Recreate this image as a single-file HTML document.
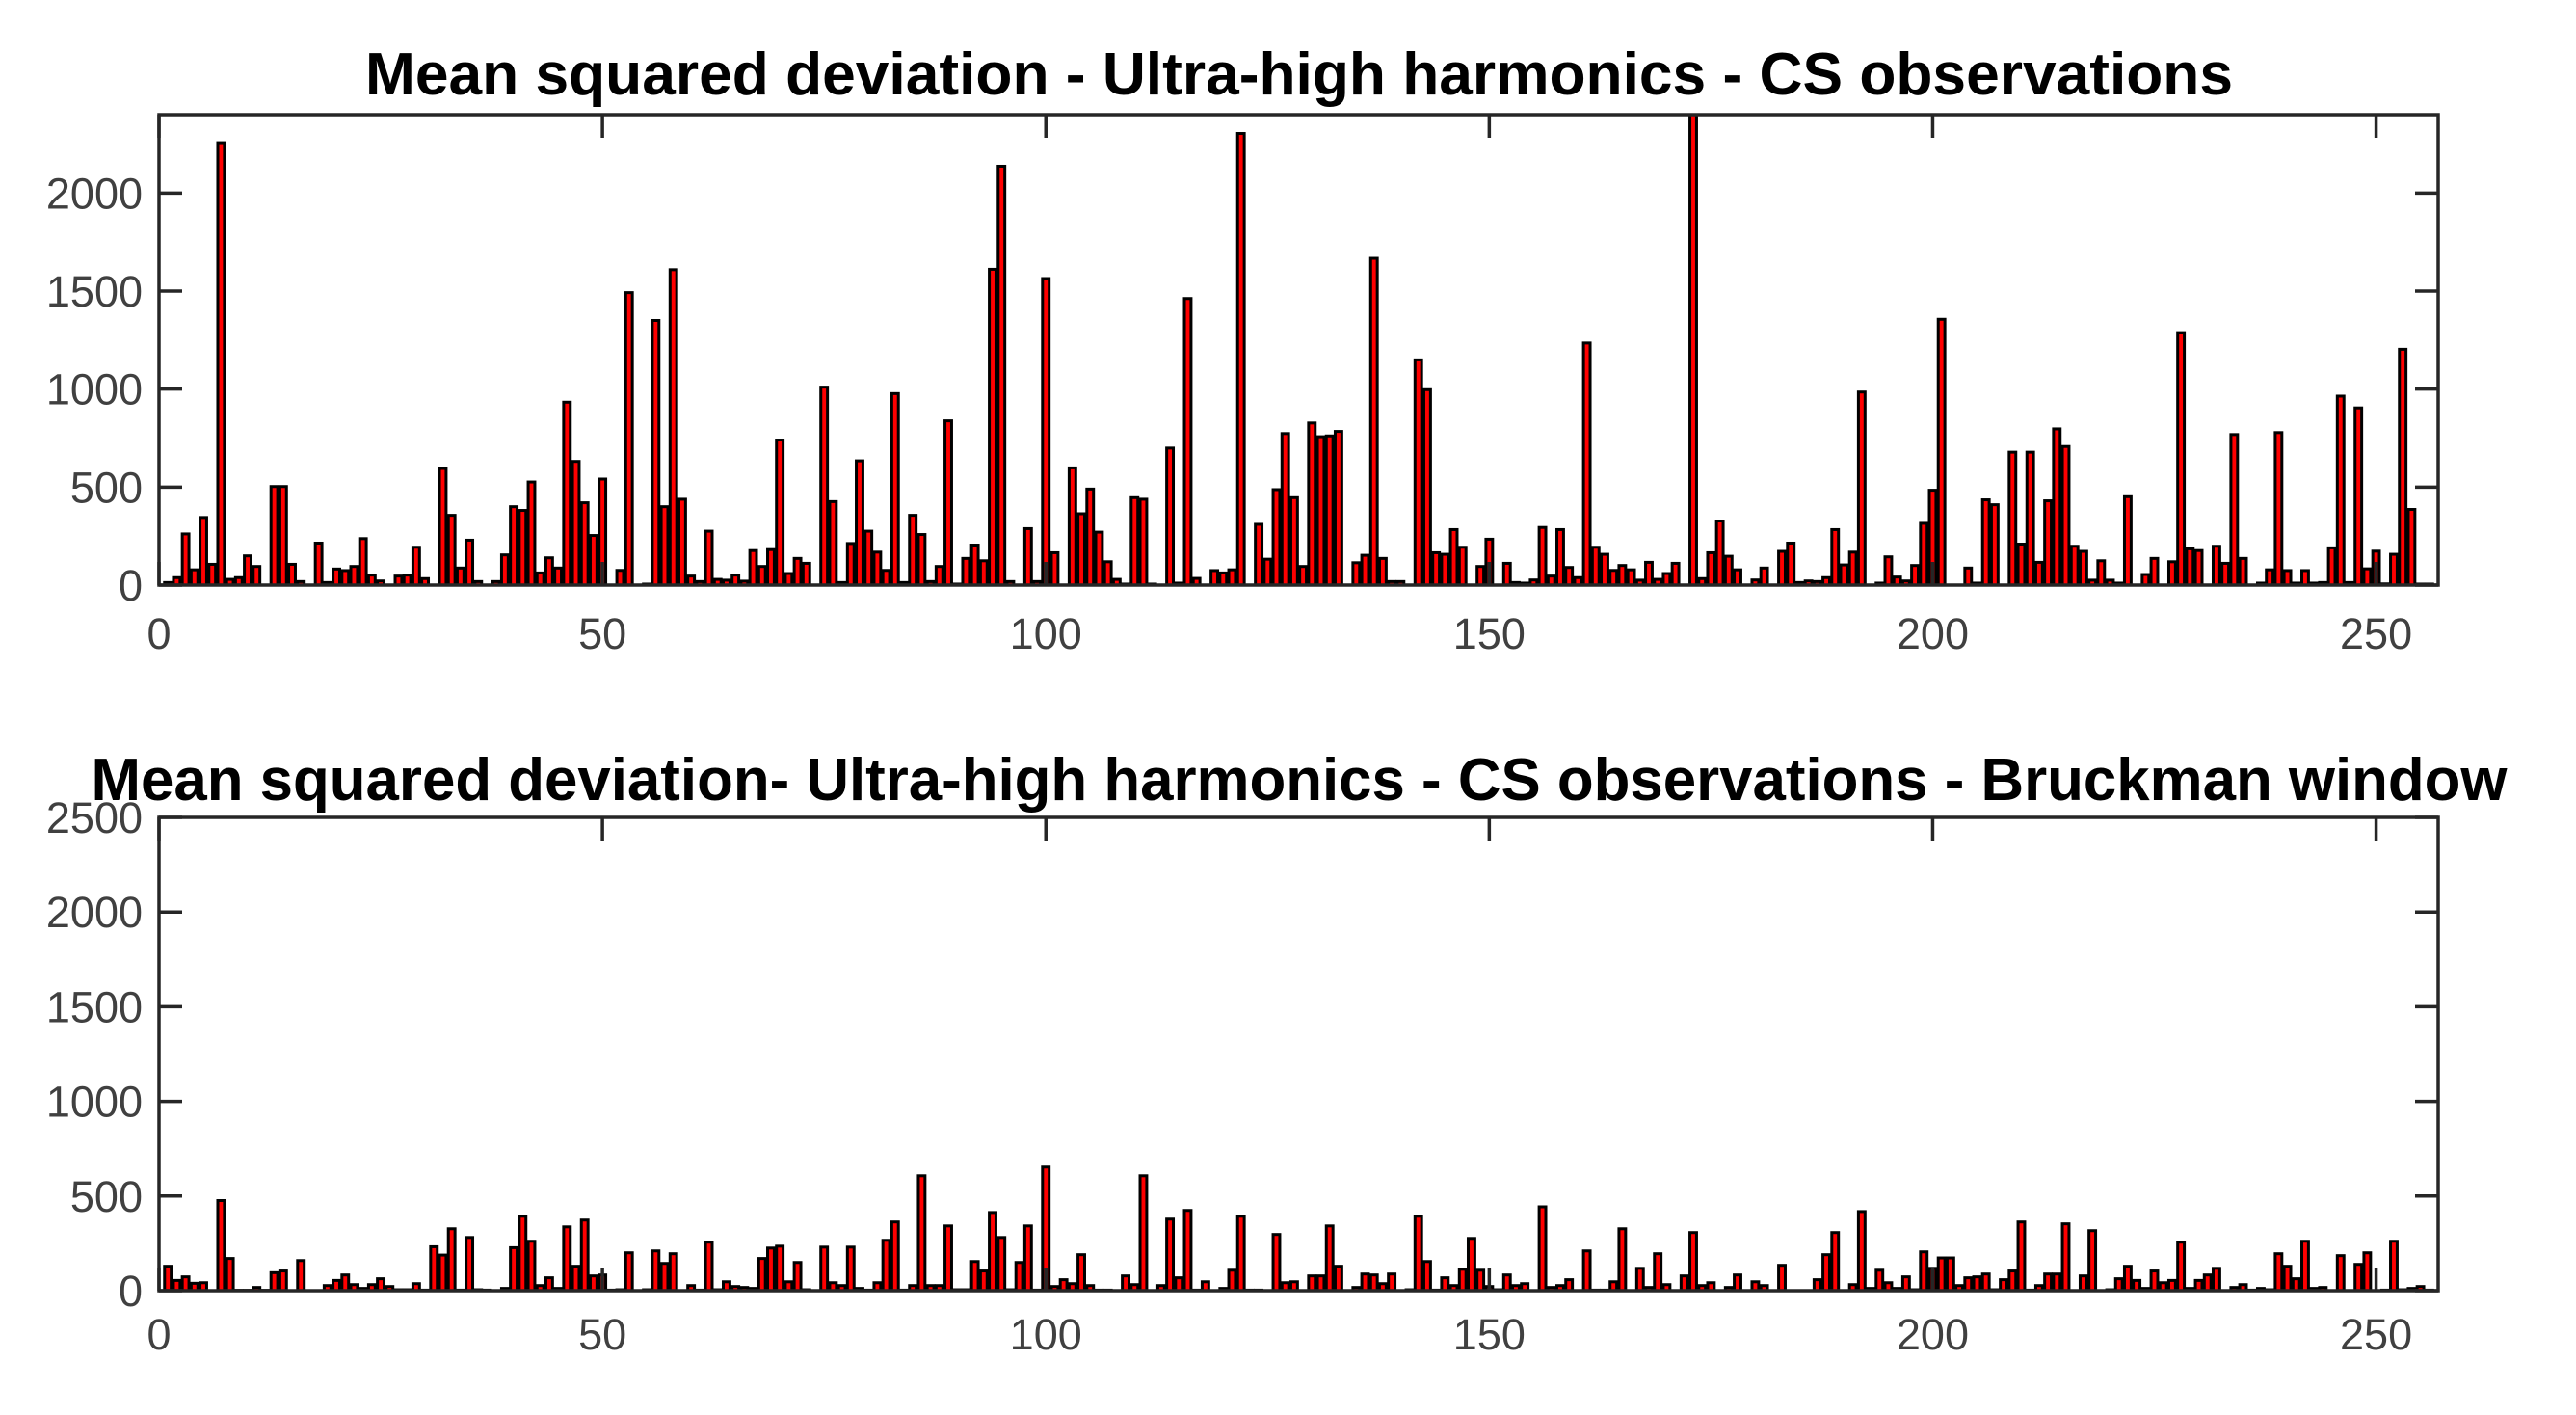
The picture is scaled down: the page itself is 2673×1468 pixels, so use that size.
<!DOCTYPE html>
<html><head><meta charset="utf-8"><title>Mean squared deviation bar charts</title>
<style>
html,body{margin:0;padding:0;background:#fff;}
svg{display:block;}
text{font-family:"Liberation Sans",Arial,sans-serif;}
</style></head>
<body>
<svg id="fig" width="2673" height="1468" viewBox="0 0 2673 1468" xmlns="http://www.w3.org/2000/svg">
<rect x="0" y="0" width="2673" height="1468" fill="#fff"/>
<text x="1348" y="98" text-anchor="middle" font-size="62" font-weight="bold" textLength="1938" lengthAdjust="spacingAndGlyphs">Mean squared deviation - Ultra-high harmonics - CS observations</text>
<text x="1348" y="830" text-anchor="middle" font-size="62" font-weight="bold" textLength="2507" lengthAdjust="spacingAndGlyphs">Mean squared deviation- Ultra-high harmonics - CS observations  - Bruckman window</text>
<g id="top"></g>
<g id="bottom"></g>
</svg>
<script>
const topValues = [13,38,261,78,345,106,2257,29,38,149,95,0,503,503,106,18,0,214,13,82,74,95,237,51,21,0,46,51,193,33,0,595,356,87,229,18,0,18,154,400,381,526,62,139,87,933,631,420,253,541,0,75,1492,0,5,1350,400,1609,438,46,18,275,29,25,51,20,176,95,181,740,59,136,111,0,1010,426,13,212,634,275,168,75,977,13,356,258,18,95,838,5,136,204,124,1611,2137,18,0,288,18,1564,165,0,598,364,490,270,119,29,5,446,438,5,0,699,10,1462,34,0,74,62,78,2304,0,310,132,487,773,446,95,827,757,761,784,0,114,152,1667,136,18,18,0,1149,997,165,157,283,193,0,95,234,0,111,13,10,26,294,46,283,90,38,1235,193,157,75,100,78,25,116,29,59,111,0,2400,33,165,327,147,78,0,26,87,0,172,214,13,21,18,38,283,103,168,985,0,10,144,41,21,100,315,484,1356,0,0,87,10,435,410,0,678,209,678,116,430,797,707,198,172,25,124,25,10,451,0,54,136,0,119,1288,185,176,0,198,111,768,136,0,10,78,778,74,10,74,10,13,190,964,13,904,83,173,6,157,1203,386,5,5];
const bottomValues = [129,54,73,39,42,0,476,170,2,2,17,2,95,104,0,159,0,0,27,54,83,32,12,32,63,22,5,5,37,3,232,188,327,3,281,5,3,0,12,227,393,261,27,68,12,337,129,373,78,83,3,5,200,0,5,210,144,195,0,27,3,256,5,47,22,17,12,170,225,235,47,149,5,0,230,42,27,230,12,3,42,266,363,3,27,607,27,27,342,5,5,154,104,413,281,5,149,342,3,653,22,58,37,190,27,3,3,0,78,32,607,0,27,378,68,424,3,47,0,12,108,393,3,3,0,297,42,47,0,78,78,342,129,0,17,88,83,37,88,0,5,393,154,3,68,27,113,276,108,22,5,83,27,37,0,443,17,27,58,0,210,3,3,47,327,0,118,17,195,32,0,78,307,27,42,0,17,83,0,47,27,0,134,0,0,0,58,190,307,0,32,418,12,108,42,12,73,5,205,118,173,173,27,68,73,88,5,58,104,363,3,27,88,88,353,0,78,317,0,5,63,129,54,12,104,42,54,256,12,54,83,118,0,17,32,3,12,5,195,129,63,261,12,17,0,185,0,139,200,0,3,261,5,12,22,3];
const xTicks = [0,50,100,150,200,250];
const topYTicks = [0,500,1000,1500,2000];
const bottomYTicks = [0,500,1000,1500,2000,2500];
const X_MAX = 257;
const NS = "http://www.w3.org/2000/svg";
const AX = "#262626";
const LEFT = 165, RIGHT = 2530;

function mk(tag, attrs, parent) {
  const e = document.createElementNS(NS, tag);
  for (const k in attrs) e.setAttribute(k, attrs[k]);
  parent.appendChild(e);
  return e;
}

function drawChart(g, values, yTicks, yMax, topY, botY, labelBase, prefix) {
  const xs = v => LEFT + (v / X_MAX) * (RIGHT - LEFT);
  const ys = v => botY - (v / yMax) * (botY - topY);
  const barW = 0.75 * (RIGHT - LEFT) / X_MAX;
  const bars = mk('g', {}, g);
  
  
  values.forEach((v, i) => {
    const k = i + 1;
    const y = ys(Math.min(v, yMax));
    const r = mk('rect', {x: (xs(k) - barW / 2).toFixed(2), y: y.toFixed(2), width: barW.toFixed(2), height: Math.max(0, botY - y).toFixed(2), fill: '#ff0000', stroke: '#000', 'stroke-width': 3}, bars);
    
    
  });
  // box
  const box = mk('rect', {x: LEFT, y: topY, width: RIGHT - LEFT, height: botY - topY, fill: 'none', stroke: AX, 'stroke-width': 3.5}, g);
  
  
  const TL = 24;
  xTicks.forEach(t => {
    const x = xs(t);
    mk('line', {x1: x, y1: botY, x2: x, y2: botY - TL, stroke: AX, 'stroke-width': 3.5}, g);
    mk('line', {x1: x, y1: topY, x2: x, y2: topY + TL, stroke: AX, 'stroke-width': 3.5}, g);
    const lb = mk('text', {x: x, y: labelBase, 'text-anchor': 'middle', 'font-size': 45, fill: '#404040'}, g);
    lb.textContent = t;
    
    
  });
  yTicks.forEach(t => {
    const y = ys(t);
    mk('line', {x1: LEFT, y1: y, x2: LEFT + TL, y2: y, stroke: AX, 'stroke-width': 3.5}, g);
    mk('line', {x1: RIGHT, y1: y, x2: RIGHT - TL, y2: y, stroke: AX, 'stroke-width': 3.5}, g);
    const lb = mk('text', {x: 148, y: y + 16, 'text-anchor': 'end', 'font-size': 45, fill: '#404040'}, g);
    lb.textContent = t;
    
    
  });
}

drawChart(document.getElementById('top'), topValues, topYTicks, 2400, 119, 607, 673, 'top');
drawChart(document.getElementById('bottom'), bottomValues, bottomYTicks, 2500, 848, 1339, 1400, 'bottom');
</script>
</body></html>
